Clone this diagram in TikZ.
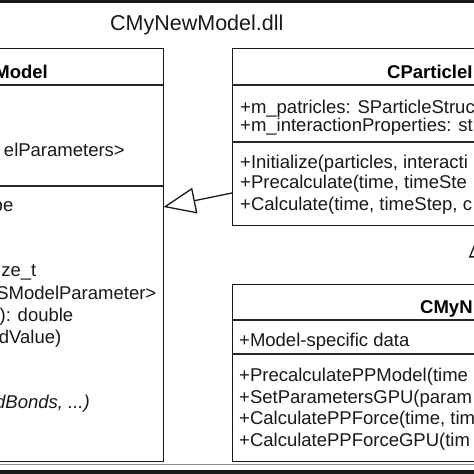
\documentclass[tikz,border=0pt]{standalone}
\usepackage{fontspec}
\setmainfont{Liberation Sans}
\usetikzlibrary{arrows.meta}
\begin{document}
\begin{tikzpicture}[x=1pt,y=-1pt,
  box/.style={draw=black!90, line width=1.3pt, inner sep=0pt, fill=white},
  sep/.style={draw=black!85, line width=1.3pt},
  txt/.style={inner sep=0pt, font=\fontsize{18.5}{22}\selectfont, text=black!90},
  ttl/.style={inner sep=0pt, font=\fontsize{18.5}{22}\selectfont\bfseries, text=black},
  inherit/.style={-{Triangle[open, length=32pt, width=26pt, fill=white]}, line width=1.3pt, draw=black!90},
  frame/.style={draw=black!90}
]
\useasboundingbox (0,0) rectangle (474,474);
\clip (0,0) rectangle (474,474);

% package frame
\draw[frame, line width=3pt] (0,1) -- (474,1);
\draw[draw=black!45, line width=1pt] (0,464) -- (474,464);
\draw[frame, line width=4.5pt] (0,472) -- (474,472);

\node[inner sep=0pt, anchor=base west, font=\fontsize{21.5}{24}\selectfont, text=black!90] (dll) at (110,30) {CMyNewModel.dll};

% base model box (left)
\node[box, anchor=north west, minimum width=313pt, minimum height=413pt] (base) at (-150,48) {};
\draw[sep] (-150,85) -- (163,85);
\draw[sep] (-150,186) -- (163,186);
\node[ttl, anchor=base east] (bt) at (48,78) {Model};
\node[txt, anchor=base east] (b1) at (125,156) {elParameters>};
\node[txt, anchor=base east] (b2) at (13.5,211) {pe};
\node[txt, anchor=base east] (b3) at (36.5,276) {ze\_t};
\node[txt, anchor=base east] (b4) at (156.5,299.5) {SModelParameter>};
\node[txt, anchor=base east] (b5) at (73.5,321) {): double};
\node[txt, anchor=base east] (b6) at (61.5,343) {dValue)};
\node[txt, anchor=base east, font=\fontsize{18.5}{22}\selectfont\itshape] (b7) at (90,408) {dBonds, ...)};

% particle model box (top right)
\node[box, anchor=north west, minimum width=330pt, minimum height=177pt] (pp) at (232,48) {};
\draw[sep] (232,85) -- (562,85);
\draw[sep] (232,142) -- (562,142);
\node[ttl, anchor=base west] (pt) at (387,78) {CParticleI};
\node[txt, anchor=base west] (p1) at (240,113) {+m\_patricles: SParticleStruc};
\node[txt, anchor=base west] (p2) at (240,131) {+m\_interactionProperties: st};
\node[txt, anchor=base west] (p3) at (240,168) {+Initialize(particles, interacti};
\node[txt, anchor=base west] (p4) at (240,188.5) {+Precalculate(time, timeSte};
\node[txt, anchor=base west] (p5) at (240,210) {+Calculate(time, timeStep, c};

% new model box (bottom right)
\node[box, anchor=north west, minimum width=330pt, minimum height=177pt] (nm) at (232,284) {};
\draw[sep] (232,320) -- (562,320);
\draw[sep] (232,354) -- (562,354);
\node[ttl, anchor=base west] (nt) at (420,313) {CMyN};
\node[txt, anchor=base west] (n1) at (239,346) {+Model-specific data};
\node[txt, anchor=base west] (n2) at (239,381) {+PrecalculatePPModel(time};
\node[txt, anchor=base west] (n3) at (239,403) {+SetParametersGPU(param};
\node[txt, anchor=base west] (n4) at (239,424.5) {+CalculatePPForce(time, tim};
\node[txt, anchor=base west] (n5) at (239,446) {+CalculatePPForceGPU(tim};

% inheritance connectors
\coordinate (a1s) at (232,193);
\coordinate (a1e) at (163.5,207);
\draw[inherit] (a1s) -- (a1e);
\coordinate (a2s) at (482,284);
\coordinate (a2e) at (482,225.5);
\draw[inherit] (a2s) -- (a2e);
\end{tikzpicture}
\end{document}
